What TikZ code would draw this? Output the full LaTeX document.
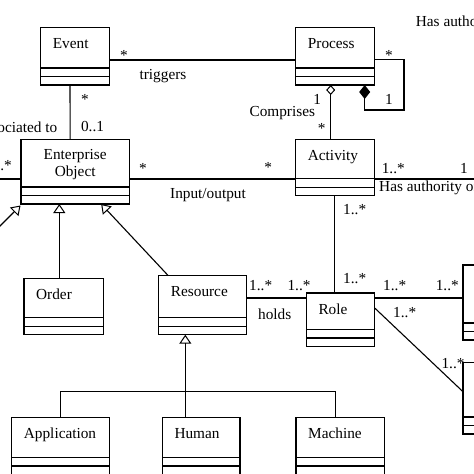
\documentclass[tikz,border=0pt]{standalone}
\usepackage{fontspec}
\setmainfont{Liberation Serif}
\usetikzlibrary{arrows.meta}

\tikzset{
	classbox/.style={draw, line width=1.4pt, inner sep=0pt, outer sep=0pt},
	classline/.style={line width=1.4pt},
	classname/.style={anchor=base west, inner sep=0pt},
	link/.style={line width=1.1pt},
	gen/.style={link, -{Triangle[open, length=9pt, width=12pt, line width=1pt]}},
	agg/.style={link, {Diamond[open, length=10pt, width=9pt, line width=1pt]}-},
	comp/.style={link, {Diamond[length=14pt, width=11pt]}-},
	lbl/.style={inner sep=0pt},
}

% class box: name, centre x, centre y, width, height, title
\newcommand{\compartments}[1]{%
	\draw[classline] ([yshift=17pt]#1.south west) -- ([yshift=17pt]#1.south east);
	\draw[classline] ([yshift=8.5pt]#1.south west) -- ([yshift=8.5pt]#1.south east);
}
\newcommand{\umlclass}[6]{%
	\node[classbox, minimum width=#4pt, minimum height=#5pt] (#1) at (#2,#3) {};
	\node[classname] (#1name) at ([xshift=12pt,yshift=-21pt]#1.north west) {#6};
	\compartments{#1}
}

\begin{document}
\begin{tikzpicture}[x=1pt,y=-1pt,font=\fontsize{15.3}{17}\selectfont]
	\useasboundingbox (0,0) rectangle (474,474);
	\clip (0,0) rectangle (474,474);
	
	%Classes
	\umlclass{event}{75}{56.35}{68.6}{57.3}{Event}
	\umlclass{process}{335.2}{56.35}{79}{57.3}{Process}
	\umlclass{activity}{335.2}{167.5}{79}{56.4}{Activity}
	\umlclass{order}{63.65}{306.5}{79.3}{56.4}{Order}
	\umlclass{resource}{202.7}{305.2}{88}{59}{Resource}
	\umlclass{role}{340.5}{319.65}{68.4}{53.3}{Role}
	\umlclass{rightupper}{503}{302.5}{80}{75}{}
	\umlclass{rightlower}{503}{398.15}{80}{71.7}{}
	\umlclass{application}{60.5}{446.1}{97.6}{56.8}{Application}
	\umlclass{human}{201.15}{446.1}{77.7}{56.8}{Human}
	\umlclass{machine}{340.15}{446.1}{88.3}{56.8}{Machine}
	
	%Enterprise object
	\node[classbox, minimum width=108.3pt, minimum height=64.7pt] (eo) at (75.15,171.65) {};
	\node[lbl, align=center, anchor=north] (eoname) at ([yshift=-10pt]eo.north) {Enterprise\\Object};
	\compartments{eo}
	
	%free ends
	\coordinate (leftend) at (-10,179);
	\coordinate (rightend) at (484,179);
	\coordinate (leftsub) at (-20.5,246.5);
	\coordinate (bar) at (185.3,391.7);
	
	%Associations
	\draw[link] ([yshift=-3.65pt]event.east) -- ([yshift=-3.65pt]process.west);
	\draw[link] ([xshift=-5pt]event.south) -- ([xshift=-5pt]eo.north);
	\draw[agg] ([xshift=-4.5pt]process.south) -- ([xshift=-4.5pt]activity.north);
	\draw[comp] ([xshift=29.5pt]process.south) |- ++(39.3,25) |- ([yshift=-3pt]process.east);
	\coordinate (io) at ([yshift=-7.35pt]eo.east);
	\draw[link] (io) -- (io -| activity.west);
	\draw[link] (io -| eo.west) -- (leftend);
	\draw[link] (io -| activity.east) -- (rightend);
	\coordinate (rolelink) at ([xshift=-5.8pt]role.north);
	\draw[link] (rolelink) -- (rolelink |- activity.south);
	\coordinate (holds) at ([yshift=7.2pt]resource.east);
	\draw[link] (holds) -- (holds -| role.west);
	\draw[link] (holds -| role.east) -- (holds -| rightupper.west);
	\draw[link] ([yshift=11.65pt]role.east) -- ([yshift=6.45pt]rightlower.west);
	
	%Generalisations
	\coordinate (ordertop) at ([xshift=-4.35pt]order.north);
	\draw[gen] (ordertop) -- (ordertop |- eo.south);
	\draw[gen] ([xshift=9.6pt]resource.north west) -- ([xshift=26pt]eo.south);
	\draw[gen] (leftsub) -- ([xshift=-0.5pt,yshift=-1.5pt]eo.south west);
	\coordinate (humantop) at ([xshift=-15.85pt]human.north);
	\draw[gen] (humantop) -- (humantop |- resource.south);
	\coordinate (machinetop) at ([xshift=-4.5pt]machine.north);
	\draw[link] (application.north) |- (bar) -| (machinetop);
	
	%Labels
	\node[lbl] (trigstar) at (124,55) {*};
	\node[lbl] (triggers) at (163,76) {triggers};
	\node[lbl] (evstar) at (85,99) {*};
	\node[lbl] (evone) at (92.5,127) {0..1};
	\node[lbl, anchor=east] (assoc) at (57.5,127) {associated to};
	\node[lbl, anchor=east] (leftmult) at (12,166) {1..*};
	\node[lbl] (iostar) at (143,168) {*};
	\node[lbl] (inout) at (208,195) {Input/output};
	\node[lbl] (actstar) at (268.3,167.7) {*};
	\node[lbl] (compone) at (317.3,99) {1};
	\node[lbl] (comprises) at (282.3,112.7) {Comprises};
	\node[lbl] (compstar) at (321.7,128) {*};
	\node[lbl] (selfstar) at (389,55) {*};
	\node[lbl] (selfone) at (389,99) {1};
	\node[lbl] (authmult) at (393.3,168.3) {1..*};
	\node[lbl] (authone) at (464,168.3) {1};
	\node[lbl, anchor=west] (authlbl) at (379,188.3) {Has authority on};
	\node[lbl, anchor=west] (toplbl) at (415.7,22.7) {Has authority};
	\node[lbl] (actrole) at (354.7,209.3) {1..*};
	\node[lbl] (roleact) at (354.7,278.3) {1..*};
	\node[lbl] (resmult) at (260.7,285.7) {1..*};
	\node[lbl] (rolemult) at (299,285.7) {1..*};
	\node[lbl] (holdslbl) at (274.7,314) {holds};
	\node[lbl] (roleright) at (394.7,285.7) {1..*};
	\node[lbl] (rightleft) at (447.3,285.7) {1..*};
	\node[lbl] (rolediag) at (404.7,312.3) {1..*};
	\node[lbl] (diagend) at (453,363.3) {1..*};
	
\end{tikzpicture}
\end{document}
